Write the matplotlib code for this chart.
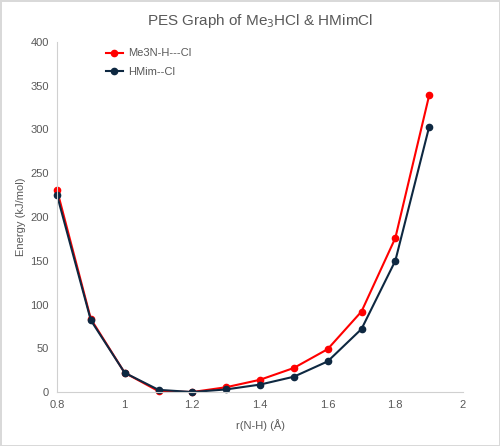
import numpy as np
import matplotlib.pyplot as plt

# datos
r_nh = [0.8, 0.9, 1.0, 1.1, 1.2, 1.3, 1.4, 1.5, 1.6, 1.7, 1.8, 1.9]
e_me3n = [231, 83.5, 22, 1, 0, 5.5, 14, 27.5, 49, 92, 176, 339]
e_hmim = [225, 82, 22, 2.5, 0, 3, 8.5, 17.5, 35, 72, 150, 303]

plt.rcParams['font.family'] = ['Liberation Sans', 'DejaVu Sans']
gris = '#595959'

fig = plt.figure(figsize=(5, 4.46), dpi=100)
fig.patch.set_edgecolor('#d9d9d9')
fig.patch.set_linewidth(2)
ax = fig.add_axes([0.114, 0.121, 0.812, 0.785])

ax.plot(r_nh, e_me3n, color='#ff0000', marker='o', markersize=4.5, lw=1.5,
        label='Me3N-H---Cl', clip_on=False)
ax.plot(r_nh, e_hmim, color='#0e2841', marker='o', markersize=4.5, lw=1.5,
        label='HMim--Cl', clip_on=False)

ax.set_xlim(0.8, 2.0)
ax.set_ylim(0, 400)
ax.set_xticks([0.8, 1.0, 1.2, 1.4, 1.6, 1.8, 2.0])
ax.set_xticklabels(['0.8', '1', '1.2', '1.4', '1.6', '1.8', '2'])
ax.set_yticks(np.arange(0, 401, 50))

for s in ['top', 'right']:
    ax.spines[s].set_visible(False)
for s in ['left', 'bottom']:
    ax.spines[s].set_color('#d0d0d0')
ax.tick_params(length=0, colors=gris, labelsize=8, pad=6)

ax.set_title('PES Graph of Me$_3$HCl & HMimCl', color=gris, fontsize=11, pad=12)
ax.set_xlabel('r(N-H) (Å)', color=gris, fontsize=8, labelpad=6)
ax.set_ylabel('Energy (kJ/mol)', color=gris, fontsize=8, labelpad=3)

leg = ax.legend(loc='upper left', bbox_to_anchor=(0.095, 1.01), frameon=False,
                fontsize=8, labelspacing=0.8, handlelength=1.6, handletextpad=0.4)
for t in leg.get_texts():
    t.set_color(gris)

fig.savefig('out.png', dpi=100)
